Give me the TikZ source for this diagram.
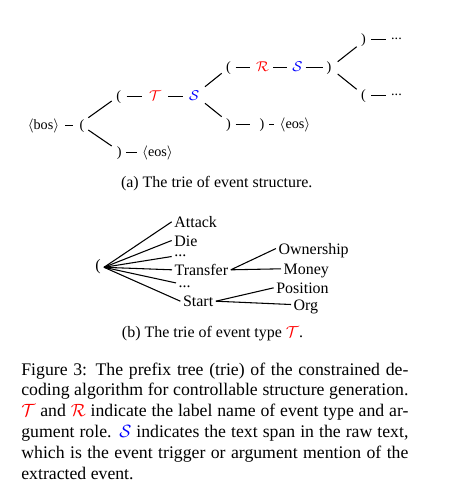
\documentclass[tikz,border=0pt]{standalone}
\usepackage{fontspec}
\setmainfont{Liberation Serif}
\begin{document}
\begin{tikzpicture}[x=0.564pt,y=-0.564pt,
  tok/.style={inner sep=0pt, text height=6pt, text depth=2pt, font=\fontsize{8}{9.6}\selectfont},
  lbl/.style={inner xsep=1.3pt, inner ysep=0pt, text height=6.2pt, text depth=0pt, font=\fontsize{9}{10.8}\selectfont, anchor=base west},
  dotlbl/.style={lbl, text height=1.5pt},
  edg/.style={line width=0.6pt},
  dsh/.style 2 args={line width=0.6pt, shorten <=#1*0.564pt, shorten >=#2*0.564pt},
  subcap/.style={inner sep=0pt, anchor=base, font=\fontsize{9}{10.8}\selectfont},
  mainline/.style={inner sep=0pt, anchor=base west, font=\fontsize{10}{12}\selectfont}]
\fill[white] (0,0) rectangle (462,496);
\useasboundingbox (0,0) rectangle (462,496);

% ---------- (a) trie of event structure ----------
\node[tok] (bos) at (43.5,125.5) {$\langle$bos$\rangle$};
\node[tok] (p0) at (82,125.5) {(};
\node[tok] (p1) at (118.7,96.5) {(};
\node[tok] (t1) at (155,96.5) {\textcolor{red}{$\mathcal{T}$}};
\node[tok] (s1) at (194.3,96.5) {\textcolor{blue}{$\mathcal{S}$}};
\node[tok] (c1) at (119.2,152.5) {)};
\node[tok] (e1) at (157.5,152.5) {$\langle$eos$\rangle$};
\node[tok] (p2) at (228.5,67.5) {(};
\node[tok] (r2) at (262.5,67.5) {\textcolor{red}{$\mathcal{R}$}};
\node[tok] (s2) at (297.5,67.5) {\textcolor{blue}{$\mathcal{S}$}};
\node[tok] (c2) at (329,67.5) {)};
\node[tok] (c3) at (228.5,124.5) {)};
\node[tok] (c4) at (262,124.5) {)};
\node[tok] (e2) at (295,124.5) {$\langle$eos$\rangle$};
\node[tok] (c5) at (363.5,39.5) {)};
\node[tok] (d5) at (396.5,39.5) {\raisebox{2pt}{...}};
\node[tok] (p3) at (363.5,95.5) {(};
\node[tok] (d6) at (396.5,95.5) {\raisebox{2pt}{...}};

\draw[dsh={21.5}{8.7}] (bos.center) -- (p0.center);
\draw[dsh={8}{13.3}] (p1.center) -- (t1.center);
\draw[dsh={13.3}{11}] (t1.center) -- (s1.center);
\draw[dsh={6.8}{20.8}] (c1.center) -- (e1.center);
\draw[dsh={7.2}{12.5}] (p2.center) -- (r2.center);
\draw[dsh={10.8}{10.8}] (r2.center) -- (s2.center);
\draw[dsh={8.2}{5.7}] (s2.center) -- (c2.center);
\draw[dsh={7.2}{12}] (c3.center) -- (c4.center);
\draw[dsh={7.3}{20.7}] (c4.center) -- (e2.center);
\draw[dsh={7.5}{10.5}] (c5.center) -- (d5.center);
\draw[dsh={7.5}{10.5}] (p3.center) -- (d6.center);

\draw[edg] ([shift={(6.3,-7.8)}]p0.center) -- ([shift={(-7,4.5)}]p1.center);
\draw[edg] ([shift={(6.3,4.5)}]p0.center) -- ([shift={(-7.5,-6.5)}]c1.center);
\draw[edg] ([shift={(10.7,-9.8)}]s1.center) -- ([shift={(-6.8,5.8)}]p2.center);
\draw[edg] ([shift={(10.7,6.8)}]s1.center) -- ([shift={(-6.8,-7.8)}]c3.center);
\draw[edg] ([shift={(8.7,-5.8)}]c2.center) -- ([shift={(-6.8,7.2)}]c5.center);
\draw[edg] ([shift={(8.7,6.5)}]c2.center) -- ([shift={(-6.8,-6.2)}]p3.center);

\node[subcap] (capa) at (216.7,187) {(a) The trie of event structure.};

% ---------- (b) trie of event type ----------
\node[inner sep=0pt, text height=6.2pt, text depth=2pt, font=\fontsize{9}{10.8}\selectfont] (root) at (98,266.7) {(};
\node[lbl] (attack) at (171.7,227.3) {Attack};
\node[lbl] (die) at (171.7,246) {Die};
\node[dotlbl] (dots1) at (171.7,256.5) {...};
\node[lbl] (transfer) at (172,275.3) {Transfer};
\node[dotlbl] (dots2) at (176,287) {...};
\node[lbl] (start) at (180.4,306.7) {Start};
\node[lbl] (own) at (276,254) {Ownership};
\node[lbl] (money) at (281,274.3) {Money};
\node[lbl] (pos) at (273.7,293.3) {Position};
\node[lbl] (org) at (291,310) {Org};

\coordinate (hub) at ([shift={(6,0.6)}]root.center);
\draw[edg] (hub) -- (attack.west);
\draw[edg] (hub) -- (die.west);
\draw[edg] (hub) -- (dots1.base west);
\draw[edg] (hub) -- (transfer.west);
\draw[edg] (hub) -- (dots2.mid west);
\draw[edg] (hub) -- (start.west);
\draw[edg] (transfer.east) -- (own.west);
\draw[edg] (transfer.east) -- (money.west);
\draw[edg] (start.east) -- (pos.west);
\draw[edg] (start.east) -- (org.west);

\node[subcap] (capb) at (212.5,337.3) {(b) The trie of event type \textcolor{red}{$\mathcal{T}$}.};

% ---------- figure caption ----------
\node[mainline] (m1) at (21,375) {\makebox[218.3pt][s]{Figure 3: The prefix tree (trie) of the constrained de-}};
\node[mainline] (m2) at (21,395.8) {\makebox[218.3pt][s]{coding algorithm for controllable structure generation.}};
\node[mainline] (m3) at (21,416.6) {\makebox[218.3pt][s]{\textcolor{red}{$\mathcal{T}$} and \textcolor{red}{$\mathcal{R}$} indicate the label name of event type and ar-}};
\node[mainline] (m4) at (21,437.4) {\makebox[218.3pt][s]{gument role. \textcolor{blue}{$\mathcal{S}$} indicates the text span in the raw text,}};
\node[mainline] (m5) at (21,458.2) {\makebox[218.3pt][s]{which is the event trigger or argument mention of the}};
\node[mainline] (m6) at (21,479) {extracted event.};
\end{tikzpicture}
\end{document}
